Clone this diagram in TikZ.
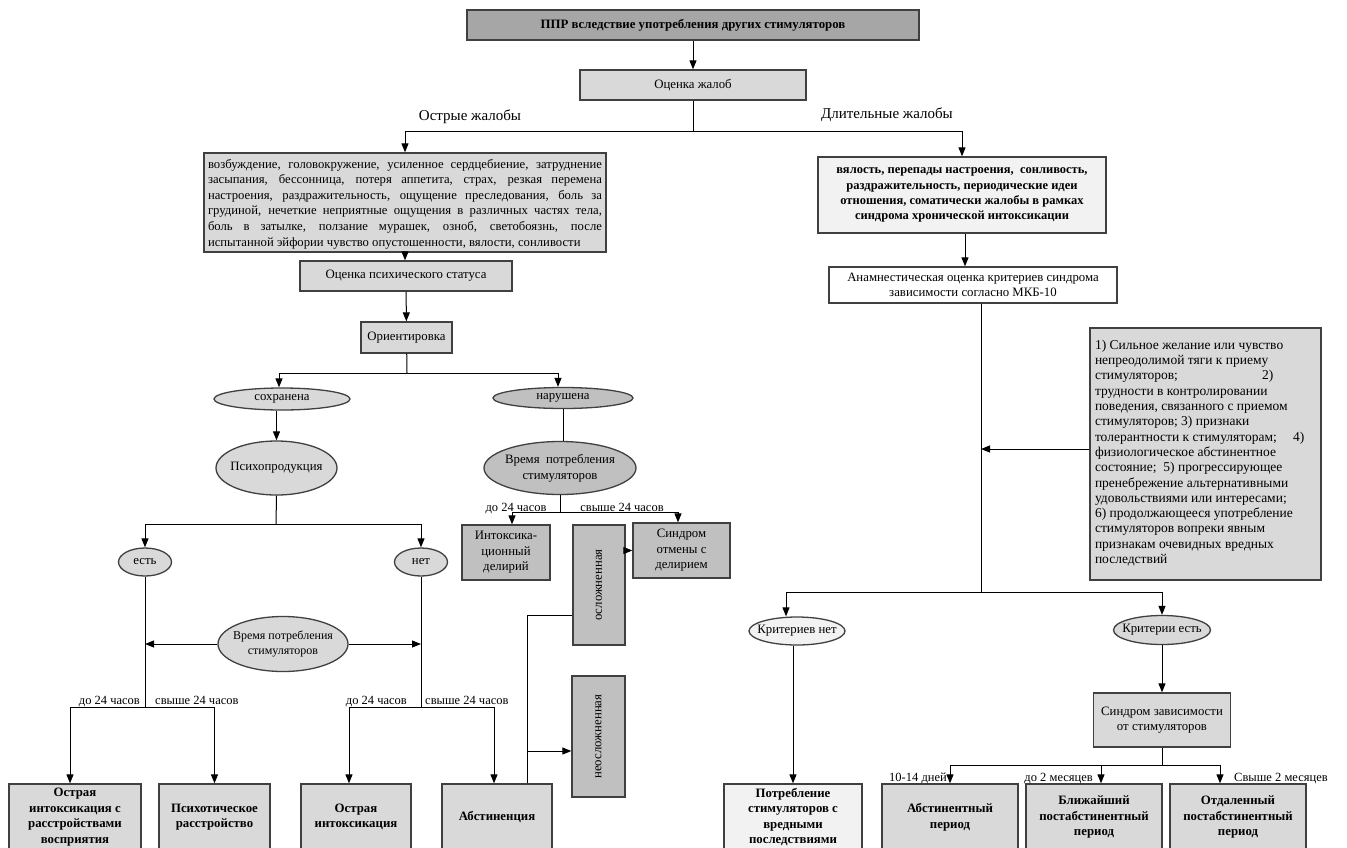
\documentclass[tikz,border=0pt]{standalone}
\usepackage{fontspec}
\usepackage{graphicx}
\setmainfont{Liberation Serif}
\usetikzlibrary{shapes.geometric,arrows.meta}
\definecolor{gA}{HTML}{A6A6A6}
\definecolor{gB}{HTML}{C0C0C0}
\definecolor{gC}{HTML}{D9D9D9}
\definecolor{gD}{HTML}{F2F2F2}
\definecolor{bord}{HTML}{404040}
\newcommand\fsBox{\fontsize{12.8}{15.6}\selectfont}
\newcommand\fsLab{\fontsize{12.5}{14}\selectfont}
\begin{document}
\begin{tikzpicture}[x=1pt,y=-1pt,
 box/.style={draw=bord, line width=1.3pt, inner sep=2pt, align=center, font=\fsBox},
 bbox/.style={box, font=\fsBox\bfseries},
 oval/.style={ellipse, draw=bord, line width=1.3pt, inner xsep=-20pt, inner ysep=-10pt, align=center, font=\fsBox},
 lab/.style={font=\fsLab, inner sep=0pt},
 con/.style={draw=black, line width=1pt},
 arr/.style={con, -{Triangle[length=9pt,width=7pt]}},
]
\useasboundingbox (0,0) rectangle (1347,847);
% top
\node[box, fill=gA, minimum width=452, minimum height=30, font=\fontsize{12.8}{14}\selectfont\bfseries] (title) at (693,25) {ППР вследствие употребления других стимуляторов};
\node[box, fill=gC, minimum width=226, minimum height=30] (ocenka) at (693,85) {Оценка жалоб};
\draw[arr] (title) -- (ocenka);
\coordinate (j1) at (693,131);
\node[lab, font=\fontsize{15}{17}\selectfont] (lacute) at (470,117) {Острые жалобы};
\node[lab, font=\fontsize{15}{17}\selectfont] (llong) at (887,115) {Длительные жалобы};
% acute box
\node[box, fill=gC, minimum width=402, minimum height=99, inner sep=0pt] (acute) at (405,202.5) {\parbox{394pt}{\fontsize{12.7}{15.6}\selectfont\hyphenpenalty=10000\emergencystretch=20pt\vspace*{3pt}возбуждение, головокружение, усиленное сердцебиение, затруднение\linebreak засыпания, бессонница, потеря аппетита, страх, резкая перемена\linebreak настроения, раздражительность, ощущение преследования, боль за\linebreak грудиной, нечеткие неприятные ощущения в различных частях тела,\linebreak боль в затылке, ползание мурашек, озноб, светобоязнь, после\linebreak испытанной эйфории чувство опустошенности, вялости, сонливости}};
\node[bbox, fill=gD, minimum width=288, minimum height=76, font=\fontsize{12.5}{15.2}\selectfont\bfseries] (long) at (962,195) {вялость, перепады настроения,\ \ сонливость,\\раздражительность, периодические идеи\\отношения, соматически жалобы в рамках\\синдрома хронической интоксикации};
\draw[con] (ocenka) -- (j1);
\draw[arr] (j1) -| (acute.north);
\draw[arr] (j1) -| (long.north);
% left column
\node[box, fill=gC, minimum width=212, minimum height=30] (pstat) at (406,276) {Оценка психического статуса};
\node[box, fill=gC, minimum width=91, minimum height=31] (orient) at (406.5,337.5) {Ориентировка};
\draw[arr] (acute.south) -- (acute.south |- pstat.north);
\draw[arr] (pstat) -- (orient);
\coordinate (j2) at (407,373);
\node[oval, fill=gC, minimum width=136, minimum height=22] (sohr) at (282,399) {сохранена};
\node[oval, fill=gB, minimum width=140, minimum height=21] (narush) at (563,398) {нарушена};
\draw[con] (orient) -- (j2);
\draw[arr] (j2) -| ([xshift=-3pt]sohr.north);
\draw[arr] (j2) -| ([xshift=-5pt]narush.north);
\node[oval, fill=gC, minimum width=121, minimum height=54] (psycho) at (276.5,468) {Психопродукция};
\draw[arr] (sohr.south -| psycho.north) -- (psycho.north);
\node[oval, fill=gB, minimum width=152, minimum height=53] (vremR) at (560,468) {Время\ \ потребления\\стимуляторов};
\draw[con] (narush.south) -- (narush.south |- vremR.north);
\path (vremR.south) ++(0,17) coordinate (j3);
\draw[con] (vremR.south) -- (j3);
\node[box, fill=gB, minimum width=88, minimum height=55] (intox) at (506,552.5) {Интоксика-\\ционный\\делирий};
\node[box, fill=gB, minimum width=97, minimum height=55] (sindr) at (681.5,550.5) {Синдром\\отмены с\\делирием};
\draw[arr] (j3) -| ([xshift=6pt]intox.north);
\draw[arr] (j3) -| ([xshift=-3.5pt]sindr.north);
\node[lab, anchor=base] (l5) at (516,511) {до 24 часов};
\node[lab, anchor=base] (l6) at (622,511) {свыше 24 часов};
\node[box, fill=gB, minimum width=52, minimum height=120] (osl) at (599,585) {\rotatebox{90}{осложненная}};
\node[box, fill=gB, minimum width=53, minimum height=121] (neosl) at (598.5,736.5) {\rotatebox{90}{неосложненная}};
\draw[arr] (osl.east |- sindr) -- (sindr.west);
% est / net
\node[oval, fill=gC, minimum width=53, minimum height=28] (est) at (145,562) {есть};
\node[oval, fill=gC, minimum width=53, minimum height=28] (net) at (421,562) {нет};
\coordinate (j4) at (276,524);
\draw[con] (psycho.south) -- (j4);
\draw[arr] (j4) -| (est.north);
\draw[arr] (j4) -| (net.north);
\coordinate (e1) at (145,707);
\coordinate (e2) at (421,707);
\draw[con] (est.south) -- (e1);
\draw[con] (net.south) -- (e2);
\node[oval, fill=gC, minimum width=130, minimum height=55, font=\fontsize{12}{15}\selectfont] (vremL) at (283,644) {Время потребления\\стимуляторов};
\draw[arr] (vremL.west) -- (vremL.west -| e1);
\draw[arr] (vremL.east) -- (vremL.east -| e2);
% bottom-left boxes
\node[bbox, fill=gC, minimum width=132, minimum height=66] (b1) at (75,817) {Острая\\интоксикация с\\расстройствами\\восприятия};
\node[bbox, fill=gC, minimum width=111, minimum height=66] (b2) at (214.5,817) {Психотическое\\расстройство};
\node[bbox, fill=gC, minimum width=110, minimum height=66] (b3) at (356,817) {Острая\\интоксикация};
\node[bbox, fill=gC, minimum width=110, minimum height=66] (b4) at (497,817) {Абстиненция};
\draw[arr] (e1) -| ([xshift=-5pt]b1.north);
\draw[arr] (e1) -| (b2.north);
\draw[arr] (e2) -| ([xshift=-7pt]b3.north);
\draw[arr] (e2) -| ([xshift=-3pt]b4.north);
\node[lab, anchor=base east] (l1) at (140,704) {до 24 часов};
\node[lab, anchor=base west] (l2) at (155,704) {свыше 24 часов};
\node[lab, anchor=base east] (l3) at (407,704) {до 24 часов};
\node[lab, anchor=base west] (l4) at (425,704) {свыше 24 часов};
\coordinate (k1) at (527,615);
\coordinate (k2) at (527,751);
\draw[con] ([xshift=30pt]b4.north) -- (k1) -- (k1 -| osl.west);
\draw[arr] (k2) -- (k2 -| neosl.west);
% right column
\node[box, fill=white, minimum width=288, minimum height=36] (anamn) at (973,285) {Анамнестическая оценка критериев синдрома\\зависимости согласно МКБ-10};
\draw[arr] ([xshift=3pt]long.south) -- ([xshift=3pt]long.south |- anamn.north);
\node[box, fill=gC, minimum width=231, minimum height=252, inner sep=0pt] (crit) at (1205.5,454) {\parbox[c][244pt][t]{221pt}{\raggedright\fontsize{13.5}{15.3}\selectfont\vspace*{8pt}
1) Сильное желание или чувство\\
непреодолимой тяги к приему\\
\makebox[167pt][l]{стимуляторов;}2)\\
трудности в контролировании\\
поведения, связанного с приемом\\
стимуляторов; 3) признаки\\
\makebox[198pt][l]{толерантности к стимуляторам;}4)\\
физиологическое абстинентное\\
состояние;\ \ 5) прогрессирующее\\
пренебрежение альтернативными\\
удовольствиями или интересами;\\
6) продолжающееся употребление\\
стимуляторов вопреки явным\\
признакам очевидных вредных\\
последствий}};
\coordinate (c1) at (981,449);
\coordinate (j5) at (981,592);
\draw[con] ([xshift=8pt]anamn.south) -- (j5);
\draw[arr] (crit.west |- c1) -- (c1);
\node[oval, fill=gD, minimum width=96, minimum height=28] (kn) at (797,631) {Критериев нет};
\node[oval, fill=gC, minimum width=97, minimum height=29] (ke) at (1162,630) {Критерии есть};
\draw[arr] (j5) -| ([xshift=-11pt]kn.north);
\draw[arr] (j5) -| (ke.north);
\node[box, fill=gC, minimum width=137, minimum height=54] (sz) at (1162,720) {Синдром зависимости\\от стимуляторов};
\draw[arr] (ke) -- (sz);
\node[bbox, fill=gD, minimum width=138, minimum height=66] (potr) at (793,817) {Потребление\\стимуляторов с\\вредными\\последствиями};
\draw[arr] ([xshift=-4pt]kn.south) -- ([xshift=-4pt]kn.south |- potr.north);
\node[bbox, fill=gC, minimum width=136, minimum height=66] (abst) at (950,817) {Абстинентный\\период};
\node[bbox, fill=gC, minimum width=136, minimum height=66] (blizh) at (1094,817) {Ближайший\\постабстинентный\\период};
\node[bbox, fill=gC, minimum width=136, minimum height=66] (otdal) at (1238,817) {Отдаленный\\постабстинентный\\период};
\coordinate (j6) at (1162,765);
\draw[con] (sz) -- (j6);
\draw[arr] (j6) -| (abst.north);
\draw[arr] (j6) -| ([xshift=7pt]blizh.north);
\draw[arr] (j6) -| ([xshift=-18pt]otdal.north);
\node[lab, anchor=base east] (l7) at (947,781) {10-14 дней};
\node[lab, anchor=base east] (l8) at (1093,781) {до 2 месяцев};
\node[lab, anchor=base west] (l9) at (1234,781) {Свыше 2 месяцев};
\end{tikzpicture}
\end{document}
